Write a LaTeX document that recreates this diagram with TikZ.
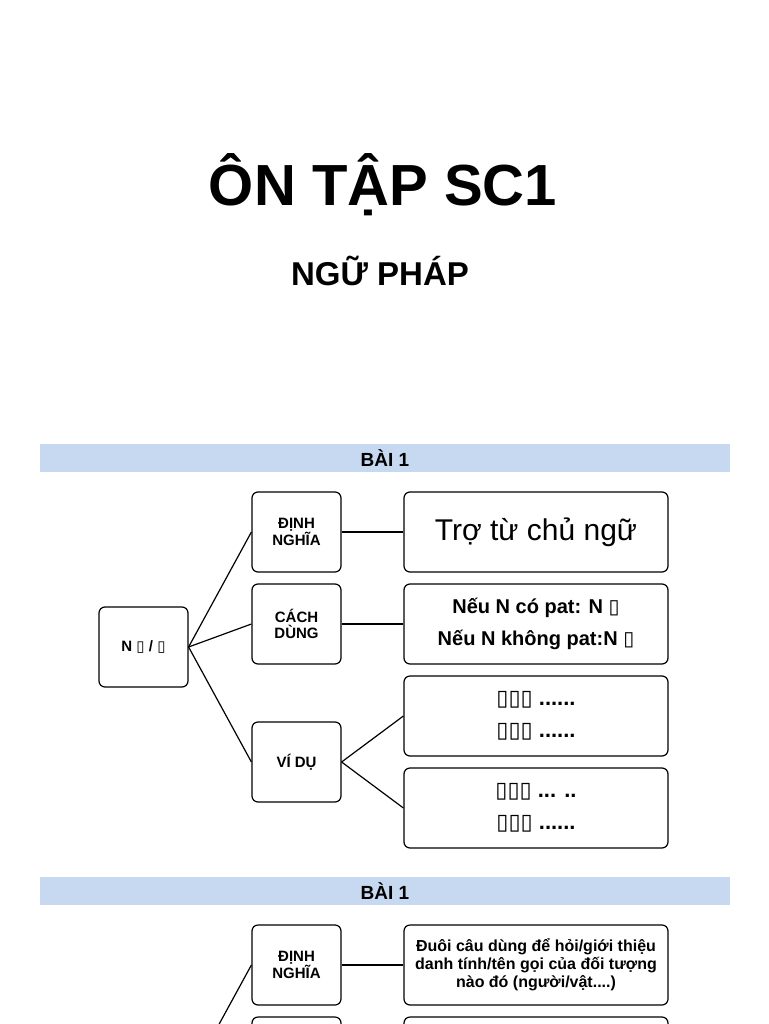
\documentclass[tikz,border=0pt]{standalone}
\usepackage{fontspec}
\setmainfont{Liberation Sans}
\newfontfamily\tofu{DejaVu Sans}
\usetikzlibrary{positioning}
\definecolor{bandblue}{HTML}{C6D9F0}
\newcommand{\tf}{{\tofu\char"25AF}}
\tikzset{
  box/.style={draw, line width=1.2pt, rounded corners=6pt, minimum width=89pt, minimum height=80pt, align=center, font=\bfseries\fontsize{15}{16}\selectfont},
  wide/.style={box, minimum width=264pt},
  band/.style={fill=bandblue, minimum width=690pt, minimum height=28pt, inner sep=0pt, font=\bfseries\fontsize{19}{20}\selectfont},
  link/.style={line width=1.2pt}
}
\begin{document}
\begin{tikzpicture}[x=1pt,y=-1pt]
\useasboundingbox (0,0) rectangle (768,1024);
\clip (0,0) rectangle (768,1024);
\node (title) at (383,185) {\bfseries\fontsize{58}{60}\selectfont ÔN TẬP SC1};
\node (sub) at (380,271) {\bfseries\fontsize{33}{34}\selectfont NGỮ PHÁP};
% bai 1
\node[band] (bandA) at (385,458) {BÀI 1};
\node[box] (nA) at (143.5,647) {N \tf{} / \tf};
\node[box] (dinhA) at (296.5,532) {ĐỊNH\\NGHĨA};
\node[box] (cachA) at (296.5,624) {CÁCH\\DÙNG};
\node[box] (viduA) at (296.5,762) {VÍ DỤ};
\node[wide, font=\fontsize{30}{32}\selectfont] (defA) at (536,532) {Trợ từ chủ ngữ};
\node[wide, font=\bfseries\fontsize{20}{32}\selectfont] (useA) at (536,624) {Nếu N có pat: N \tf\\Nếu N không pat:N \tf};
\node[wide, font=\bfseries\fontsize{22}{32}\selectfont] (exA) at (536,716) {\tf\tf\tf{} ......\\\tf\tf\tf{} ......};
\node[wide, font=\bfseries\fontsize{22}{32}\selectfont] (exB) at (536,808) {\tf\tf\tf{} ... ..\\\tf\tf\tf{} ......};
\draw[link] (nA.east) -- (dinhA.west);
\draw[link] (nA.east) -- (cachA.west);
\draw[link] (nA.east) -- (viduA.west);
\draw[link] (dinhA) -- (defA);
\draw[link] (cachA) -- (useA);
\draw[link] (viduA.east) -- (exA.west);
\draw[link] (viduA.east) -- (exB.west);
% bai 1 (tiep)
\node[band] (bandB) at (385,891) {BÀI 1};
\node[box] (nB) at (143.5,1080) {};
\node[box] (dinhB) at (296.5,965) {ĐỊNH\\NGHĨA};
\node[box] (cachB) at (296.5,1057) {};
\node[wide, font=\bfseries\fontsize{16}{18}\selectfont] (defB) at (536,965) {Đuôi câu dùng để hỏi/giới thiệu\\danh tính/tên gọi của đối tượng\\nào đó (người/vật....)};
\node[wide] (useB) at (536,1057) {};
\draw[link] (nB.east) -- (dinhB.west);
\draw[link] (dinhB) -- (defB);
\end{tikzpicture}
\end{document}
